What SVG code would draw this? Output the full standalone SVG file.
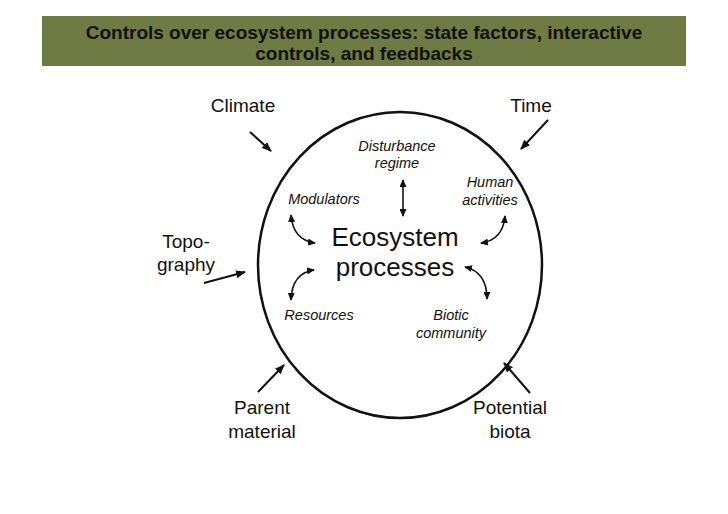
<svg xmlns="http://www.w3.org/2000/svg" width="728" height="514" viewBox="0 0 728 514">
<style>
.h{font-family:"Liberation Sans",Arial,sans-serif;font-weight:bold;font-size:19px;fill:#111;text-anchor:middle}
.o{font-family:"Liberation Sans",Arial,sans-serif;font-size:19px;fill:#111;text-anchor:middle}
.i{font-family:"Liberation Sans",Arial,sans-serif;font-style:italic;font-size:14.5px;fill:#111;text-anchor:middle}
.e{font-family:"Liberation Sans",Arial,sans-serif;font-size:26px;fill:#111;text-anchor:middle}
.a{stroke:#111;stroke-width:2;fill:none;marker-end:url(#ah)}
.c{stroke:#111;stroke-width:1.6;fill:none;marker-end:url(#sh);marker-start:url(#sh)}
</style>
<defs>
<marker id="ah" markerWidth="10" markerHeight="8" refX="9" refY="4" orient="auto" markerUnits="userSpaceOnUse"><path d="M0,0 L10,4 L0,8 Z" fill="#111"/></marker>
<marker id="sh" markerWidth="8" markerHeight="7" refX="7" refY="3.5" orient="auto-start-reverse" markerUnits="userSpaceOnUse"><path d="M0,0 L8,3.5 L0,7 Z" fill="#111"/></marker>
</defs>
<rect width="728" height="514" fill="#fff"/>
<g id="title"><rect x="42" y="16" width="644" height="50" fill="#6e7b45"/>
<text class="h" x="364" y="39">Controls over ecosystem processes: state factors, interactive</text>
<text class="h" x="364" y="60">controls, and feedbacks</text></g>
<g id="circle"><ellipse cx="400" cy="265" rx="142" ry="153" fill="none" stroke="#111" stroke-width="2.5"/></g>
<g id="climate"><text class="o" x="243" y="112">Climate</text></g>
<g id="time"><text class="o" x="531" y="112">Time</text></g>
<g id="topo"><text class="o" x="186" y="248">Topo-</text><text class="o" x="186" y="271">graphy</text></g>
<g id="parent"><text class="o" x="262" y="414">Parent</text><text class="o" x="262" y="438">material</text></g>
<g id="biota"><text class="o" x="510" y="414">Potential</text><text class="o" x="510" y="438">biota</text></g>
<g id="disturbance"><text class="i" x="397" y="151">Disturbance</text><text class="i" x="397" y="168">regime</text></g>
<g id="modulators"><text class="i" x="324" y="204">Modulators</text></g>
<g id="human"><text class="i" x="490" y="187">Human</text><text class="i" x="490" y="205">activities</text></g>
<g id="eco"><text class="e" x="395" y="246">Ecosystem</text><text class="e" x="395" y="276">processes</text></g>
<g id="resources"><text class="i" x="319" y="320">Resources</text></g>
<g id="biotic"><text class="i" x="451" y="320">Biotic</text><text class="i" x="451" y="338">community</text></g>
<g id="connectors">
<line class="a" x1="250" y1="132" x2="271" y2="151"/>
<line class="a" x1="548" y1="120" x2="521" y2="149"/>
<line class="a" x1="204" y1="283" x2="245" y2="272"/>
<line class="a" x1="258" y1="392" x2="284" y2="365"/>
<line class="a" x1="530" y1="393" x2="504" y2="363"/>
<line class="c" x1="403" y1="180" x2="403" y2="216"/>
<path class="c" d="M291,215 Q293,240 315,243"/>
<path class="c" d="M505,216 Q503,240 481,243"/>
<path class="c" d="M314,270 Q292,273 291,300"/>
<path class="c" d="M465,267 Q487,272 487,299"/>
</g>
</svg>
